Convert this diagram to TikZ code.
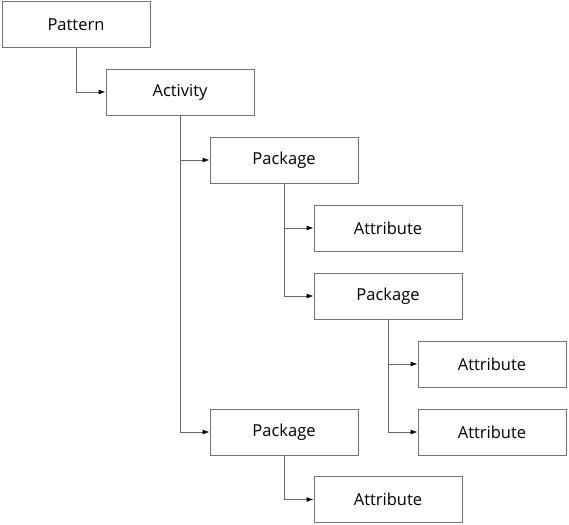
\documentclass[tikz,border=0pt]{standalone}
\usepackage{fontspec}
\setmainfont{Open Sans}
\usetikzlibrary{arrows.meta}
\tikzset{
  box/.style={draw=black!55, line width=0.9pt, minimum width=148pt, minimum height=46pt, inner sep=0pt, font=\fontsize{16.5}{19}\selectfont},
  link/.style={draw=black!60, line width=0.9pt, -{Latex[length=7pt,width=5pt,black]}}
}
\begin{document}
\begin{tikzpicture}[x=1pt,y=1pt]
      \useasboundingbox (0,0) rectangle (569,524);
      \node [box] (pattern) at (76,499.5) {Pattern};
      \node [box] (activity) at (180,432) {Activity};
      \node [box] (pkgA) at (284,364) {Package};
      \node [box] (attrA) at (388,296) {Attribute};
      \node [box] (pkgB) at (388,228) {Package};
      \node [box] (attrB) at (492,160) {Attribute};
      \node [box] (attrC) at (492,92) {Attribute};
      \node [box] (pkgC) at (284,92) {Package};
      \node [box] (attrD) at (388,24.5) {Attribute};
      \draw [link] (pattern.south) |- (activity.west);
      \draw [link] (activity.south) |- (pkgA.west);
      \draw [link] (activity.south) |- (pkgC.west);
      \draw [link] (pkgA.south) |- (attrA.west);
      \draw [link] (pkgA.south) |- (pkgB.west);
      \draw [link] (pkgB.south) |- (attrB.west);
      \draw [link] (pkgB.south) |- (attrC.west);
      \draw [link] (pkgC.south) |- (attrD.west);
    \end{tikzpicture}
\end{document}
